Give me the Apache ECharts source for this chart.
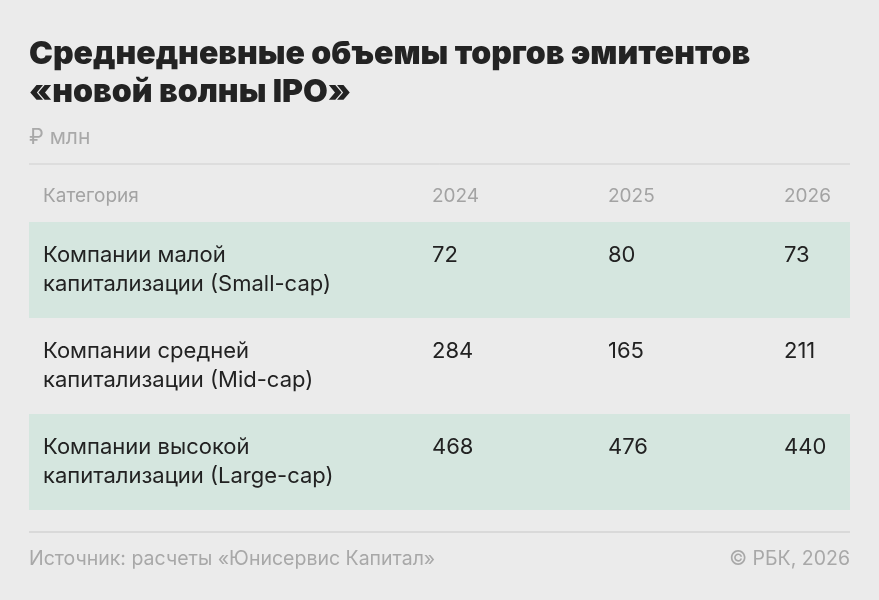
<!DOCTYPE html>
<html><head><meta charset="utf-8">
<script src="https://cdn.jsdelivr.net/npm/echarts@6/dist/echarts.min.js"></script>
<style>html,body{margin:0;padding:0;background:#ebebeb}#c{width:879px;height:600px}</style>
</head><body><div id="c"></div>
<script>
var categories = ['Компании малой\nкапитализации (Small-cap)', 'Компании средней\nкапитализации (Mid-cap)', 'Компании высокой\nкапитализации (Large-cap)'];
var years = ['2024', '2025', '2026'];
var values2024 = [72, 284, 468];
var values2025 = [80, 165, 476];
var values2026 = [73, 211, 440];
var headerLabel = 'Категория';
var titleText = 'Среднедневные объемы торгов эмитентов\n«новой волны IPO»';
var unitText = '₽ млн';
var sourceText = 'Источник: расчеты «Юнисервис Капитал»';
var copyrightText = '© РБК, 2026';

var FONT = 'Inter, "Noto Sans", sans-serif';
var colX = [14, 403, 579, 755]; // offsets within table width (axis units)
var rows = categories.map(function (c, i) { return [i, c, values2024[i], values2025[i], values2026[i]]; });

var chart = echarts.init(document.getElementById('c'));
chart.setOption({
  backgroundColor: '#ebebeb',
  animation: false,
  title: [{
    text: titleText, left: 29, top: 35, padding: 0,
    textStyle: { fontFamily: FONT, fontSize: 32, fontWeight: 900, color: '#232323', lineHeight: 38 }
  }, {
    text: unitText, left: 29, top: 127, padding: 0,
    textStyle: { fontFamily: FONT, fontSize: 21, fontWeight: 400, color: '#a9a9a9' }
  }],
  grid: { left: 29, right: 29, top: 222, bottom: 90 },
  xAxis: { type: 'value', min: 0, max: 821, show: false },
  yAxis: { type: 'category', inverse: true, data: categories, show: false },
  series: [{
    type: 'custom',
    data: rows,
    encode: { x: -1, y: 0 },
    renderItem: function (params, api) {
      var i = api.value(0);
      var c = api.coord([0, i]);
      var h = api.size([0, 1])[1];
      var x0 = api.coord([0, i])[0];
      var x1 = api.coord([821, i])[0];
      var top = c[1] - h / 2;
      var children = [];
      if (i % 2 === 0) {
        children.push({ type: 'rect', shape: { x: x0, y: top, width: x1 - x0, height: h }, style: { fill: '#d5e6df' } });
      }
      children.push({ type: 'text', x: api.coord([colX[0], i])[0], y: top + 18.5,
        style: { text: categories[i], font: '400 22px ' + FONT, fill: '#222', lineHeight: 29, verticalAlign: 'top', align: 'left' } });
      for (var k = 0; k < 3; k++) {
        children.push({ type: 'text', x: api.coord([colX[k + 1], i])[0], y: top + 18.5,
          style: { text: String(api.value(k + 2)), font: '400 22px ' + FONT, fill: '#222', lineHeight: 29, verticalAlign: 'top', align: 'left' } });
      }
      return { type: 'group', children: children };
    }
  }],
  graphic: [
    { type: 'line', shape: { x1: 29, y1: 164, x2: 850, y2: 164 }, style: { stroke: '#cfcfcf', lineWidth: 1 } },
    { type: 'line', shape: { x1: 29, y1: 532, x2: 850, y2: 532 }, style: { stroke: '#d9d9d9', lineWidth: 2 } },
    { type: 'text', x: 43, y: 196, style: { text: headerLabel, font: '400 19px ' + FONT, fill: '#a3a3a3', verticalAlign: 'middle' } }
  ].concat(years.map(function (y, k) {
    return { type: 'text', x: 29 + colX[k + 1], y: 196, style: { text: y, font: '400 19px ' + FONT, fill: '#a3a3a3', verticalAlign: 'middle' } };
  })).concat([
    { type: 'text', x: 29, y: 559, style: { text: sourceText, font: '400 19.5px ' + FONT, fill: '#a8a8a8', verticalAlign: 'middle' } },
    { type: 'text', x: 850, y: 559, style: { text: copyrightText, font: '400 19.5px ' + FONT, fill: '#a8a8a8', verticalAlign: 'middle', align: 'right' } }
  ])
});
</script></body></html>
